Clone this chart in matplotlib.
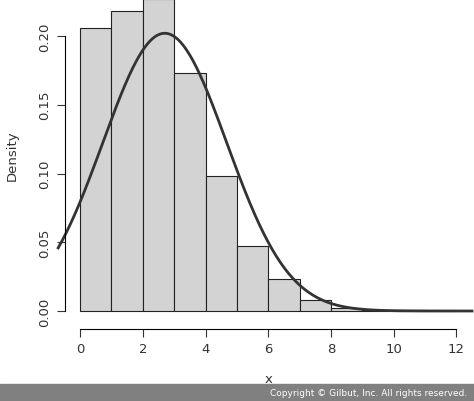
import numpy as np
import matplotlib
matplotlib.use("Agg")
import matplotlib.pyplot as plt

edges = np.arange(0, 13, 1)
dens = [0.206, 0.218, 0.227, 0.173, 0.098, 0.047, 0.023, 0.008, 0.002, 0.001, 0.0006, 0.0003]
mu, sd = 2.7, 1.975
xticks = [0, 2, 4, 6, 8, 10, 12]
yticks = [0.00, 0.05, 0.10, 0.15, 0.20]

fig = plt.figure(figsize=(4.74, 4.02), dpi=100)
ax = fig.add_axes([66/474, 1-312/402, (472-66)/474, 312/402])
ax.bar(edges[:-1], dens, width=1, align='edge', color='#d3d3d3', edgecolor='#222222', linewidth=0.8, clip_on=False)
xs = np.linspace(-0.7, 12.5, 400)
ax.plot(xs, np.exp(-0.5*((xs-mu)/sd)**2)/(sd*np.sqrt(2*np.pi)), color='#333333', lw=2, clip_on=False)
ax.set_xlim(-0.45, 12.5)
ax.set_ylim(0, 312/1375)
for s in ['top', 'right']:
    ax.spines[s].set_visible(False)
ax.spines['left'].set_bounds(0, 0.2)
ax.spines['bottom'].set_bounds(0, 12)
ax.spines['bottom'].set_position(('outward', 13))
ax.spines['left'].set_position(('outward', 1))
ax.set_xticks(xticks)
ax.set_yticks(yticks)
ax.set_yticklabels([f"{v:.2f}" for v in yticks], rotation=90, va='center')
ax.tick_params(labelsize=9.5, colors='#333333', length=6)
ax.set_xlabel('x', fontsize=9.5, color='#333333', labelpad=12)
ax.set_ylabel('Density', fontsize=9.5, color='#333333', labelpad=14)
fig.patches.append(plt.Rectangle((0, 0), 1, 17/402, transform=fig.transFigure, color='#808080', zorder=0))
fig.text(0.985, 8/402, 'Copyright © Gilbut, Inc. All rights reserved.', color='white', fontsize=6.5, ha='right', va='center')
fig.savefig('out.png')
